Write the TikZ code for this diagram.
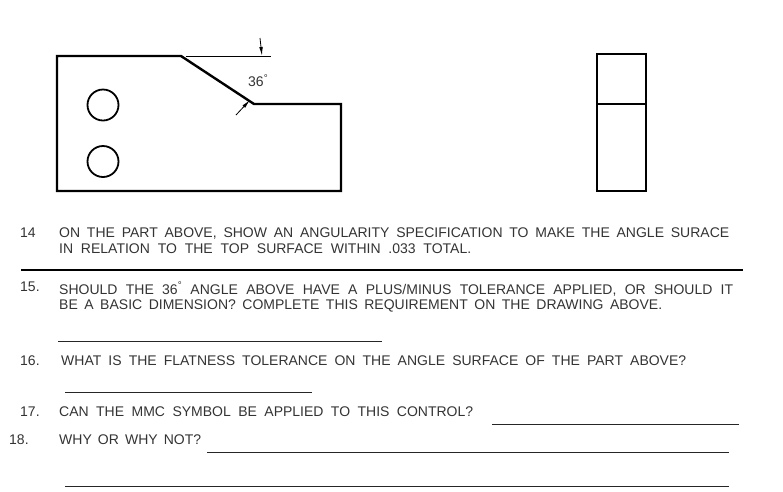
\documentclass[tikz,border=0pt]{standalone}
\usepackage{fontspec}
\setmainfont{Liberation Sans}
\usepackage{tikz}
\usetikzlibrary{arrows.meta}

\begin{document}
\begin{tikzpicture}[x=1pt,y=-1pt,>={Latex[length=9pt,width=3.6pt]}]
    \tikzstyle{part}=[draw=black,line width=2.4pt,line join=miter]
    \tikzstyle{hole}=[circle,draw=black,line width=1.8pt,fill=white,minimum size=31pt,inner sep=0pt]
    \tikzstyle{dimline}=[draw=black,line width=0.8pt]
    \tikzstyle{answer}=[draw=black!85,line width=0.9pt]
    \tikzstyle{qtext}=[anchor=west,inner sep=0pt,font=\fontsize{14}{16}\selectfont,text=black!80]
    \useasboundingbox (0,0) rectangle (783,491);

    % front view
    \draw[part] (57,56) -- (181,56) -- (254,104) -- (341,104) -- (341,191) -- (57,191) -- cycle;
    \node[hole] (H-0) at (103,105){};
    \node[hole] (H-1) at (103,161.5){};

    % side view
    \draw[part] (597,54) rectangle (646,191);
    \draw[part] (597,104) -- (646,104);

    % angle dimension
    \coordinate (D-0) at (186,56);
    \coordinate (D-1) at (271,56);
    \coordinate (A-0) at (260,38);
    \coordinate (A-1) at (262,56);
    \coordinate (A-2) at (236,115);
    \coordinate (A-3) at (250,100);
    \draw[dimline] (D-0) -- (D-1);
    \draw[dimline,->] (A-0) -- (A-1);
    \draw[dimline,->] (A-2) -- (A-3);
    \node[qtext] (angle) at (248,81){36\textsuperscript{\textdegree}};

    % questions
    \node[qtext] (N-14) at (20,233){14};
    \node[qtext] (Q-14a) at (59,233){\makebox[670pt][s]{ON THE PART ABOVE, SHOW AN ANGULARITY SPECIFICATION TO MAKE THE ANGLE SURACE}};
    \node[qtext] (Q-14b) at (59,249){\makebox[412pt][s]{IN RELATION TO THE TOP SURFACE WITHIN .033 TOTAL.}};
    \node[qtext] (N-15) at (20,287){15.};
    \node[qtext] (Q-15a) at (59,289){\makebox[674pt][s]{SHOULD THE 36\textsuperscript{\textdegree} ANGLE ABOVE HAVE A PLUS/MINUS TOLERANCE APPLIED, OR SHOULD IT}};
    \node[qtext] (Q-15b) at (59,306){\makebox[603pt][s]{BE A BASIC DIMENSION? COMPLETE THIS REQUIREMENT ON THE DRAWING ABOVE.}};
    \node[qtext] (N-16) at (20,361){16.};
    \node[qtext] (Q-16) at (61,361){\makebox[625pt][s]{WHAT IS THE FLATNESS TOLERANCE ON THE ANGLE SURFACE OF THE PART ABOVE?}};
    \node[qtext] (N-17) at (20,412){17.};
    \node[qtext] (Q-17) at (59,412){\makebox[414pt][s]{CAN THE MMC SYMBOL BE APPLIED TO THIS CONTROL?}};
    \node[qtext] (N-18) at (9,440){18.};
    \node[qtext] (Q-18) at (59,440){\makebox[142pt][s]{WHY OR WHY NOT?}};

    % heavy rule and answer lines
    \coordinate (R-0) at (21,270);
    \coordinate (R-1) at (743,270);
    \draw[black,line width=2.8pt] (R-0) -- (R-1);
    \foreach \name/\xa/\xb/\y in {a/58/382/341, b/65/312/392, c/492/739/424, d/207/729/452, e/65/729/486}{
        \coordinate (L-\name-0) at (\xa,\y);
        \coordinate (L-\name-1) at (\xb,\y);
        \draw[answer] (L-\name-0) -- (L-\name-1);
    }
\end{tikzpicture}
\end{document}
